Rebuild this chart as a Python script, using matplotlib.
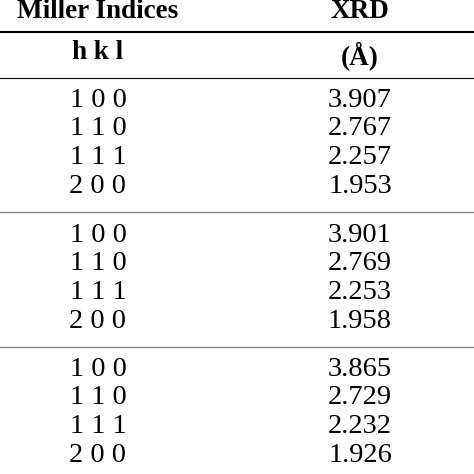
import matplotlib.pyplot as plt

header = ["Miller Indices", "XRD"]
subheader = ["h k l", "(Å)"]
hkl = ["1 0 0", "1 1 0", "1 1 1", "2 0 0"]
groups = [
    [3.907, 2.767, 2.257, 1.953],
    [3.901, 2.769, 2.253, 1.958],
    [3.865, 2.729, 2.232, 1.926],
]

W = H = 474
fig = plt.figure(figsize=(4.74, 4.74), dpi=100)
ax = fig.add_axes([0, 0, 1, 1])
ax.set_xlim(0, W)
ax.set_ylim(H, 0)
ax.axis("off")

cx = [98, 360]
hfont = dict(family="Liberation Serif", fontsize=19.5, fontweight="bold")
bfont = dict(family="Liberation Serif", fontsize=20.5)

for x, t in zip(cx, header):
    ax.text(x, 11, t, ha="center", va="center", **hfont)
ax.axhline(32, color="black", lw=1.5)
for x, t, y in zip(cx, subheader, [52, 56]):
    ax.text(x, y, t, ha="center", va="center", **hfont)
ax.axhline(78, color="black", lw=0.8)

y0 = [100, 235, 369]
for g, (vals, ys) in enumerate(zip(groups, y0)):
    for i, (h, v) in enumerate(zip(hkl, vals)):
        y = ys + i * 28.7
        ax.text(cx[0], y, h, ha="center", va="center", **bfont)
        ax.text(cx[1], y, f"{v:.3f}", ha="center", va="center", **bfont)
    if g < len(groups) - 1:
        ax.axhline(ys + 112, color="#888888", lw=1.0)

fig.savefig("out.png", dpi=100)
